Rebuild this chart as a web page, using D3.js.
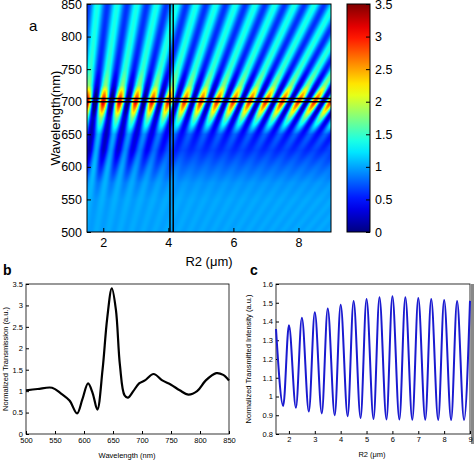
<!DOCTYPE html><html><head><meta charset="utf-8">
<script src="https://cdn.jsdelivr.net/npm/d3@7"></script>
<style>body{margin:0;background:#fff}text{font-family:"Liberation Sans",Arial,sans-serif}</style></head>
<body><svg id="c" width="474" height="461"></svg>
<script>
// ---- data ----
const mapWl = [500,525,550,575,600,625,650,675,700,725,750,775,800,825,850];
const mapBase = [1.0,1.0,1.0,0.95,0.8,0.62,0.62,1.0,1.55,1.05,1.0,1.0,1.0,1.0,1.0];
const mapAmpLeft = [0.03,0.03,0.05,0.12,0.3,0.45,0.5,0.8,1.85,0.75,0.5,0.45,0.42,0.4,0.4];
const mapAmpRight = [0.02,0.02,0.02,0.02,0.03,0.05,0.15,0.7,1.5,0.75,0.5,0.45,0.42,0.4,0.4];
const fringePeriod = 0.5, fringeRefWl = 700, fringeRefX = 2.0;
const cutLines = {x:[4.05,4.15], y:[700,705]};
const colorTicks = [0,0.5,1,1.5,2,2.5,3,3.5];
const aXTicks = [2,4,6,8], aYTicks = [500,550,600,650,700,750,800,850];
const bWl = [500,520,545,560,575,588,597,607,615,623,632,640,648,655,662,670,676,685,695,705,720,735,750,765,780,795,810,828,840,850];
const bT  = [1.02,1.05,1.08,0.95,0.78,0.48,0.8,1.18,0.95,0.57,1.5,2.7,3.4,2.9,1.6,0.9,0.85,1.0,1.18,1.25,1.4,1.25,1.15,1.02,0.92,1.0,1.25,1.42,1.38,1.25];
const bXTicks = [500,550,600,650,700,750,800,850], bYTicks=[0,0.5,1,1.5,2,2.5,3,3.5];
const cX = [1.5,1.78,2.0,2.27,2.5,2.77,3.0,3.27,3.5,3.77,4.0,4.27,4.5,4.77,5.0,5.27,5.5,5.77,6.0,6.27,6.5,6.77,7.0,7.27,7.5,7.77,8.0,8.27,8.5,8.77,9.0];
const cY = [1.36,0.95,1.38,0.94,1.42,0.92,1.45,0.91,1.47,0.90,1.49,0.895,1.51,0.885,1.52,0.88,1.53,0.878,1.535,0.877,1.53,0.876,1.525,0.876,1.52,0.875,1.515,0.875,1.51,0.875,1.51];
const cXTicks=[2,3,4,5,6,7,8,9], cYTicks=[0.8,0.9,1,1.1,1.2,1.3,1.4,1.5,1.6];

function jet(v){ // v in [0,1]
  const r=Math.min(Math.max(Math.min(4*v-1.5,-4*v+4.5),0),1);
  const g=Math.min(Math.max(Math.min(4*v-0.5,-4*v+3.5),0),1);
  const b=Math.min(Math.max(Math.min(4*v+0.5,-4*v+2.5),0),1);
  return [r*255,g*255,b*255];
}
const svg=d3.select("#c");
// ---- panel a ----
const ax=d3.scaleLinear().domain([1.5,9]).range([87,331]);
const ay=d3.scaleLinear().domain([500,850]).range([232,4]);
const interpB=d3.scaleLinear().domain(mapWl).range(mapBase);
const interpL=d3.scaleLinear().domain(mapWl).range(mapAmpLeft);
const interpR=d3.scaleLinear().domain(mapWl).range(mapAmpRight);
const W=244,H=228;
const cv=document.createElement("canvas");cv.width=W;cv.height=H;
const ctx=cv.getContext("2d");const img=ctx.createImageData(W,H);
for(let j=0;j<H;j++){const wl=ay.invert(4+j+0.5);
  for(let i=0;i<W;i++){const x=ax.invert(87+i+0.5);
    const t=Math.min(Math.max((x-1.5)/3,0),1);
    const amp=interpL(wl)*(1-t)+interpR(wl)*t;
    const ph=(x*fringeRefWl/wl-fringeRefX)/fringePeriod*2*Math.PI;
    let v=interpB(wl)+amp*Math.cos(ph);
    v=Math.max(0,Math.min(3.5,v));
    const c=jet(v/3.5);const k=(j*W+i)*4;
    img.data[k]=c[0];img.data[k+1]=c[1];img.data[k+2]=c[2];img.data[k+3]=255;}}
ctx.putImageData(img,0,0);
svg.append("image").attr("x",87).attr("y",4).attr("width",W).attr("height",H).attr("preserveAspectRatio","none").attr("href",cv.toDataURL());
const ga=svg.append("g");
cutLines.x.forEach(v=>ga.append("line").attr("x1",ax(v)).attr("x2",ax(v)).attr("y1",4).attr("y2",232).attr("stroke","#000").attr("stroke-width",1.5));
cutLines.y.forEach(v=>ga.append("line").attr("x1",87).attr("x2",331).attr("y1",ay(v)).attr("y2",ay(v)).attr("stroke","#000").attr("stroke-width",1.5));
ga.append("rect").attr("x",87).attr("y",4).attr("width",244).attr("height",228).attr("fill","none").attr("stroke","#000");
const axA=svg.append("g").attr("transform","translate(0,232)").call(d3.axisBottom(ax).tickValues(aXTicks).tickSize(-4).tickPadding(6));
const ayA=svg.append("g").attr("transform","translate(87,0)").call(d3.axisLeft(ay).tickValues(aYTicks).tickSize(-4).tickPadding(5));
[axA,ayA].forEach(g=>{g.select(".domain").remove();g.selectAll("text").attr("font-size",12.5).attr("fill","#000");});
svg.append("text").attr("x",209).attr("y",266).attr("text-anchor","middle").attr("font-size",13).text("R2 (μm)");
svg.append("text").attr("transform","translate(60,118) rotate(-90)").attr("text-anchor","middle").attr("font-size",13).text("Wavelength(nm)");
svg.append("text").attr("x",29).attr("y",31).attr("font-size",15).text("a");
// colorbar
const cy=d3.scaleLinear().domain([0,3.5]).range([232,4]);
const grad=svg.append("defs").append("linearGradient").attr("id","jet").attr("x1",0).attr("y1",1).attr("x2",0).attr("y2",0);
d3.range(0,1.0001,0.05).forEach(t=>{const c=jet(t);grad.append("stop").attr("offset",t).attr("stop-color",`rgb(${c.map(Math.round)})`);});
svg.append("rect").attr("x",347).attr("y",4).attr("width",23).attr("height",228).attr("fill","url(#jet)").attr("stroke","#000");
const cb=svg.append("g").attr("transform","translate(370,0)").call(d3.axisRight(cy).tickValues(colorTicks).tickFormat(d3.format("~g")).tickSize(-4).tickPadding(5));
cb.select(".domain").remove();cb.selectAll("text").attr("font-size",12.5).attr("fill","#000");
// ---- panel b ----
const bx=d3.scaleLinear().domain([500,850]).range([26,229]);
const by=d3.scaleLinear().domain([0,3.5]).range([434,284]);
svg.append("rect").attr("x",26).attr("y",284).attr("width",203).attr("height",150).attr("fill","none").attr("stroke","#000").attr("stroke-width",0.8);
const bxa=svg.append("g").attr("transform","translate(0,434)").call(d3.axisBottom(bx).tickValues(bXTicks).tickSize(-3).tickPadding(4));
const bya=svg.append("g").attr("transform","translate(26,0)").call(d3.axisLeft(by).tickValues(bYTicks).tickFormat(d3.format("~g")).tickSize(-3).tickPadding(3));
[bxa,bya].forEach(g=>{g.select(".domain").remove();g.selectAll("text").attr("font-size",7.5).attr("fill","#000");});
svg.append("path").datum(bWl.map((w,i)=>[w,bT[i]])).attr("d",d3.line().x(d=>bx(d[0])).y(d=>by(d[1])).curve(d3.curveCatmullRom)).attr("fill","none").attr("stroke","#000").attr("stroke-width",2.2);
svg.append("text").attr("x",127).attr("y",458).attr("text-anchor","middle").attr("font-size",7.5).text("Wavelength (nm)");
svg.append("text").attr("transform","translate(8,359) rotate(-90)").attr("text-anchor","middle").attr("font-size",7.5).text("Normalized Transmission (a.u.)");
svg.append("text").attr("x",3).attr("y",275).attr("font-size",14).attr("font-weight","bold").text("b");
// ---- panel c ----
const cxs=d3.scaleLinear().domain([1.5,9]).range([276,470]);
const cys=d3.scaleLinear().domain([0.8,1.6]).range([434,284]);
svg.append("rect").attr("x",276).attr("y",284).attr("width",194).attr("height",150).attr("fill","none").attr("stroke","#000").attr("stroke-width",0.8);
svg.append("rect").attr("x",471).attr("y",284).attr("width",3).attr("height",160).attr("fill","#888");
const cxa=svg.append("g").attr("transform","translate(0,434)").call(d3.axisBottom(cxs).tickValues(cXTicks).tickSize(-3).tickPadding(3));
const cya=svg.append("g").attr("transform","translate(276,0)").call(d3.axisLeft(cys).tickValues(cYTicks).tickFormat(d3.format("~g")).tickSize(-3).tickPadding(3));
[cxa,cya].forEach(g=>{g.select(".domain").remove();g.selectAll("text").attr("font-size",7.5).attr("fill","#000");});
svg.append("path").datum(cX.map((x,i)=>[x,cY[i]])).attr("d",d3.line().x(d=>cxs(d[0])).y(d=>cys(d[1])).curve(d3.curveMonotoneX)).attr("fill","none").attr("stroke","#1a1ad0").attr("stroke-width",2);
svg.append("text").attr("x",372).attr("y",457).attr("text-anchor","middle").attr("font-size",7.5).text("R2 (μm)");
svg.append("text").attr("transform","translate(251,359) rotate(-90)").attr("text-anchor","middle").attr("font-size",7.5).text("Normalized Transmitted Intensity (a.u.)");
svg.append("text").attr("x",250).attr("y",275).attr("font-size",14).attr("font-weight","bold").text("c");
</script></body></html>
